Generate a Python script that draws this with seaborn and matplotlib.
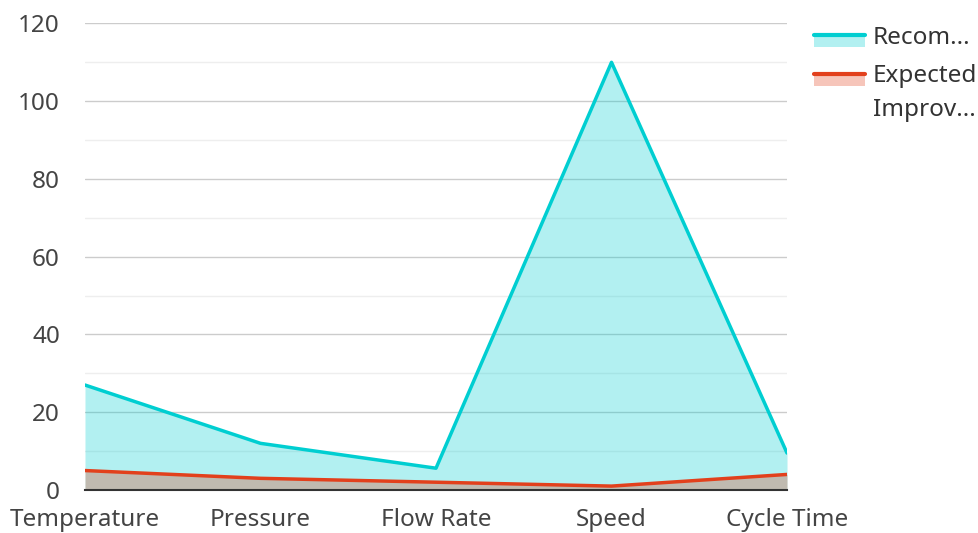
import seaborn as sns
import pandas as pd
import matplotlib as mpl
from matplotlib import pyplot as plt
from matplotlib.patches import Patch
from matplotlib.lines import Line2D
from matplotlib.legend_handler import HandlerBase

categories = ["Temperature", "Pressure", "Flow Rate", "Speed", "Cycle Time"]
recommended = [27, 12, 5.6, 110, 9.5]
improvement = [5, 3, 2, 1, 4]
series_names = ["Recom...", "Expected\nImprov..."]

teal = "#00CED1"
red = "#E2401C"

sns.set_style("white")
plt.rcParams["font.family"] = ["Noto Sans", "DejaVu Sans"]

df = pd.DataFrame({"cat": categories, "x": range(len(categories)),
                   "rec": recommended, "imp": improvement})

fig = plt.figure(figsize=(9.79, 5.33), dpi=100)
ax = fig.add_axes([0.0868, 0.0807, 0.7171, 0.8753])

ax.fill_between(df["x"], 0, df["rec"], color=teal, alpha=0.3, linewidth=0)
ax.fill_between(df["x"], 0, df["imp"], color=red, alpha=0.3, linewidth=0)
sns.lineplot(x="x", y="rec", data=df, ax=ax, color=teal, linewidth=2.5)
sns.lineplot(x="x", y="imp", data=df, ax=ax, color=red, linewidth=2.5)

ax.set_xlim(0, len(categories) - 1)
ax.set_ylim(0, 120)
ax.set_yticks(range(0, 121, 20))
ax.yaxis.set_minor_locator(mpl.ticker.MultipleLocator(10))
ax.grid(True, which="major", axis="y", color="#cccccc", linewidth=1)
ax.grid(True, which="minor", axis="y", color="#eeeeee", linewidth=1)
ax.set_axisbelow(True)
ax.set_xticks(df["x"])
ax.set_xticklabels(categories)
ax.set_xlabel("")
ax.set_ylabel("")
ax.tick_params(axis="both", length=0, labelsize=17.5, labelcolor="#444444")
ax.tick_params(axis="y", pad=18)
ax.tick_params(axis="x", pad=13)
for s in ["top", "right", "left"]:
    ax.spines[s].set_visible(False)
ax.spines["bottom"].set_color("#333333")
ax.spines["bottom"].set_linewidth(1.5)
ax.spines["bottom"].set_zorder(5)


class AreaHandler(HandlerBase):
    def __init__(self, dy=0):
        super().__init__()
        self.dy = dy

    def create_artists(self, legend, orig, xd, yd, w, h, fontsize, trans):
        c = orig.get_facecolor()
        top = -yd + h * 0.5 + self.dy
        box = mpl.patches.Rectangle((-xd, top - 8.6), w, 8.6,
                                    facecolor=c, alpha=0.3, linewidth=0,
                                    transform=trans)
        ln = Line2D([-xd, -xd + w], [top, top], color=c, linewidth=3,
                    transform=trans)
        return [box, ln]


h_rec = Patch(facecolor=teal)
h_imp = Patch(facecolor=red)
leg = fig.legend([h_rec, h_imp], series_names, loc="upper left",
                 bbox_to_anchor=(0.822, 0.97), frameon=False, fontsize=17.5,
                 handler_map={h_rec: AreaHandler(0), h_imp: AreaHandler(14)},
                 handlelength=2.06, handletextpad=0.34, labelspacing=0.6,
                 borderaxespad=0, labelcolor="#333333")
for t in leg.get_texts():
    t.set_linespacing(1.55)

plt.savefig("out.png", dpi=100)
